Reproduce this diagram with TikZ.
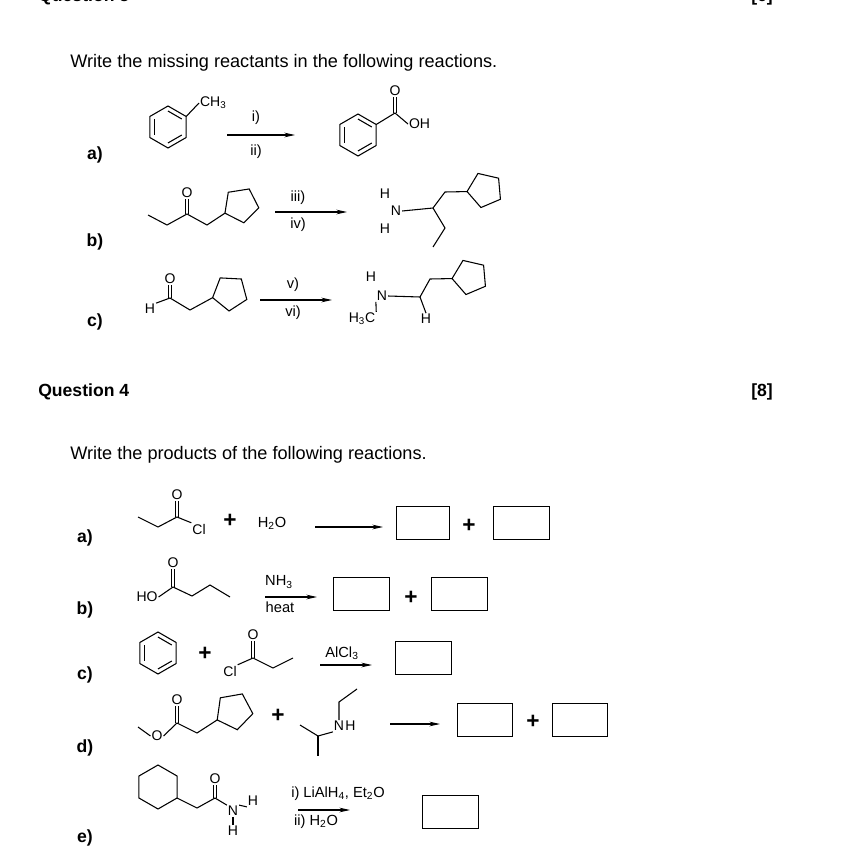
\documentclass[tikz,border=0pt]{standalone}
\usepackage{fontspec}
\setmainfont{Liberation Sans}
\usetikzlibrary{arrows.meta,calc}
\newcommand\ringpoly[6]{%
  \coordinate (#1) at (#2,#3);
  \foreach \k in {1,...,#6}{\coordinate (#1-\k) at ($(#1)+({#5+360/#6*(\k-1)}:#4)$);}
  \draw[bond] (#1-1) \foreach \k in {2,...,#6}{ -- (#1-\k)} -- cycle;}
\newcommand\benz[3]{\ringpoly{#1}{#2}{#3}{21}{270}{6}%
  \foreach \a/\b in {1/2,3/4,5/6}{\draw[bond] ($(#1)!0.76!(#1-\a)$) -- ($(#1)!0.76!(#1-\b)$);}}
\newcommand\dbv[2]{\draw[bond] ([xshift=-1.3pt]#1) -- ([xshift=-1.3pt]#2); \draw[bond] ([xshift=1.3pt]#1) -- ([xshift=1.3pt]#2);}
\begin{document}
\begin{tikzpicture}[x=0.75pt,y=-0.75pt,
  bond/.style={line width=0.8pt},
  lbl/.style={font=\fontsize{10.5}{11}\selectfont, inner sep=0.6pt},
  rg/.style={font=\fontsize{11}{12}\selectfont, inner sep=0.6pt},
  txt/.style={font=\fontsize{13.6}{15}\selectfont, inner sep=0pt},
  hd/.style={font=\fontsize{13.2}{15}\selectfont\bfseries, inner sep=0pt},
  rxn/.style={line width=0.8pt,-{Stealth[length=8pt,width=3.5pt]}},
  box/.style={draw,line width=0.6pt,minimum height=25pt,inner sep=0pt},
  plus/.style={font=\fontsize{17}{17}\selectfont\bfseries, inner sep=0pt}]
\useasboundingbox (0,0) rectangle (847,859);
\fill[white] (0,0) rectangle (847,859);
% headers
\node[hd,anchor=west] (q3) at (38,-3) {Question 3};
\node[hd] (m3) at (762,-3) {[6]};
\node[txt,anchor=west] (t3) at (70,63) {Write the missing reactants in the following reactions.};
\node[hd] (la) at (95,155) {a)};
\node[hd] (lb) at (95,242) {b)};
\node[hd] (lc) at (95,322) {c)};
\node[hd,anchor=west] (q4) at (38,392) {Question 4};
\node[hd] (m4) at (762,392) {[8]};
\node[txt,anchor=west] (t4) at (70,455) {Write the products of the following reactions.};
\node[hd] (l4a) at (85,538) {a)};
\node[hd] (l4b) at (85,610) {b)};
\node[hd] (l4c) at (85,675) {c)};
\node[hd] (l4d) at (85,748) {d)};
\node[hd] (l4e) at (85,838) {e)};
% ---- Q3 a
\benz{T}{168}{127}
\node[lbl,anchor=west] (ch3) at (199,103) {CH\textsubscript{3}};
\draw[bond] (T-2) -- (ch3.west);
\coordinate (a1s) at (227,135); \coordinate (a1e) at (295,135);
\draw[rxn] (a1s) -- (a1e);
\node[rg] (r1) at (256,118) {i)};
\node[rg] (r2) at (256,152) {ii)};
\benz{B}{358}{135}
\coordinate (bc) at (395,113);
\node[lbl] (bo) at (395,91) {O};
\node[lbl,anchor=west] (boh) at (408,124) {OH};
\draw[bond] (B-2) -- (bc) -- (boh.west);
\dbv{bc}{bo.south}
% ---- Q3 b
\coordinate (k1) at (148,215); \coordinate (k2) at (167,225); \coordinate (k3) at (187,214);
\coordinate (k4) at (207,225);
\node[lbl] (ko) at (187,193) {O};
\ringpoly{P1}{241}{205}{18}{153}{5}
\draw[bond] (k1) -- (k2) -- (k3) -- (k4) -- (P1-1);
\dbv{k3}{ko.south}
\coordinate (a2s) at (275,212); \coordinate (a2e) at (347,212);
\draw[rxn] (a2s) -- (a2e);
\node[rg] (r3) at (298,198) {iii)};
\node[rg] (r4) at (298,225) {iv)};
\node[lbl] (n1) at (396,211) {N};
\node[lbl] (h1) at (385,194) {H};
\node[lbl] (h2) at (385,229) {H};
\coordinate (m1) at (433,208); \coordinate (m2) at (445,192);
\coordinate (m3c) at (445,228); \coordinate (m4c) at (433,247);
\ringpoly{P2}{485}{190}{18}{175}{5}
\draw[bond] (n1.east) -- (m1) -- (m2) -- (P2-1);
\draw[bond] (m1) -- (m3c) -- (m4c);
% ---- Q3 c
\node[lbl] (ch) at (150,309) {H};
\coordinate (c1) at (170,298);
\node[lbl] (co) at (170,279) {O};
\coordinate (c2) at (190,310);
\ringpoly{P3}{230}{293}{18}{165}{5}
\draw[bond] (ch.north east) -- (c1) -- (c2) -- (P3-1);
\dbv{c1}{co.south}
\coordinate (a3s) at (260,300); \coordinate (a3e) at (332,300);
\draw[rxn] (a3s) -- (a3e);
\node[rg] (r5) at (293,285) {v)};
\node[rg] (r6) at (293,313) {vi)};
\node[lbl] (n2) at (382,296) {N};
\node[lbl] (h3) at (371,277) {H};
\node[lbl] (hc) at (362,319) {H\textsubscript{3}C};
\coordinate (p1) at (420,297); \coordinate (p2) at (430,279);
\node[lbl] (h4) at (426,319) {H};
\ringpoly{P4}{470}{277}{18}{175}{5}
\draw[bond] (n2.east) -- (p1) -- (p2) -- (P4-1);
\draw[bond] (n2.south west) -- (hc.north east);
\draw[bond] (p1) -- (h4.north);
% ---- Q4 a
\coordinate (d1) at (138,517); \coordinate (d2) at (158,527); \coordinate (d3) at (177,517);
\node[lbl] (do) at (177,495) {O};
\node[lbl] (dcl) at (199,529) {Cl};
\draw[bond] (d1) -- (d2) -- (d3) -- (dcl.north west);
\dbv{d3}{do.south}
\node[plus] (pa) at (230,521) {+};
\node[rg] (w) at (272,523) {H\textsubscript{2}O};
\coordinate (a4s) at (315,527); \coordinate (a4e) at (383,527);
\draw[rxn] (a4s) -- (a4e);
\node[box,minimum width=40pt] (bx1) at (423,523) {};
\node[plus] (pa2) at (469,526) {+};
\node[box,minimum width=42pt] (bx2) at (521,523) {};
% ---- Q4 b
\node[lbl] (ho) at (147,597) {HO};
\coordinate (e1) at (173,587);
\node[lbl] (eo) at (173,563) {O};
\coordinate (e2) at (192,596); \coordinate (e3) at (210,585); \coordinate (e4) at (230,597);
\draw[bond] (ho.east) -- (e1) -- (e2) -- (e3) -- (e4);
\dbv{e1}{eo.south}
\coordinate (a5s) at (265,597); \coordinate (a5e) at (317,597);
\draw[rxn] (a5s) -- (a5e);
\node[rg] (nh3) at (279,582) {NH\textsubscript{3}};
\node[rg] (heat) at (280,607) {heat};
\node[box,minimum width=42pt] (bx3) at (361,594) {};
\node[plus] (pb) at (411,598) {+};
\node[box,minimum width=42pt] (bx4) at (459,594) {};
% ---- Q4 c
\benz{C}{158}{653}
\node[plus] (pc) at (205,654) {+};
\node[lbl] (ccl) at (230,671) {Cl};
\coordinate (f1) at (253,658);
\node[lbl] (fo) at (253,635) {O};
\coordinate (f2) at (273,668); \coordinate (f3) at (293,658);
\draw[bond] (ccl.north east) -- (f1) -- (f2) -- (f3);
\dbv{f1}{fo.south}
\coordinate (a6s) at (320,665); \coordinate (a6e) at (372,665);
\draw[rxn] (a6s) -- (a6e);
\node[rg] (alc) at (342,653) {AlCl\textsubscript{3}};
\node[box,minimum width=42pt] (bx5) at (423,658) {};
% ---- Q4 d
\coordinate (g1) at (138,727);
\node[lbl] (go) at (157,736) {O};
\coordinate (g2) at (177,723);
\node[lbl] (go2) at (177,700) {O};
\coordinate (g3) at (197,733);
\ringpoly{P5}{234}{711}{19}{152}{5}
\draw[bond] (g1) -- (go.west); \draw[bond] (go.east) -- (g2) -- (g3) -- (P5-1);
\dbv{g2}{go2.south}
\node[plus] (pd) at (278,716) {+};
\node[lbl] (n4) at (339,726) {N};
\node[lbl,anchor=west,inner sep=0pt] (n4h) at (n4.east) {H};
\coordinate (q1) at (339,702); \coordinate (q2) at (357,689);
\coordinate (q3c) at (318,736); \coordinate (q4c) at (300,725); \coordinate (q5) at (318,756);
\draw[bond] (n4.north) -- (q1) -- (q2);
\draw[bond] (n4.south west) -- (q3c) -- (q4c);
\draw[bond] (q3c) -- (q5);
\coordinate (a7s) at (390,724); \coordinate (a7e) at (440,724);
\draw[rxn] (a7s) -- (a7e);
\node[box,minimum width=41pt] (bx6) at (485,720) {};
\node[plus] (pd2) at (533,722) {+};
\node[box,minimum width=41pt] (bx7) at (580,720) {};
% ---- Q4 e
\ringpoly{H}{158}{787}{22}{270}{6}
\coordinate (s1) at (197,808); \coordinate (s2) at (215,798);
\node[lbl] (so) at (215,779) {O};
\node[lbl] (sn) at (233,811) {N};
\node[lbl] (snh) at (253,801) {H};
\node[lbl] (snh2) at (233,831) {H};
\draw[bond] (H-3) -- (s1) -- (s2) -- (sn.north west);
\dbv{s2}{so.south}
\draw[bond] (sn.north east) -- (snh.south west);
\draw[bond] (sn.south) -- (snh2.north);
\coordinate (a8s) at (298,810); \coordinate (a8e) at (350,810);
\draw[rxn] (a8s) -- (a8e);
\node[rg] (li) at (338,794) {i) LiAlH\textsubscript{4}, Et\textsubscript{2}O};
\node[rg] (li2) at (316,822) {ii) H\textsubscript{2}O};
\node[box,minimum width=42pt] (bx8) at (450,812) {};
\end{tikzpicture}
\end{document}
